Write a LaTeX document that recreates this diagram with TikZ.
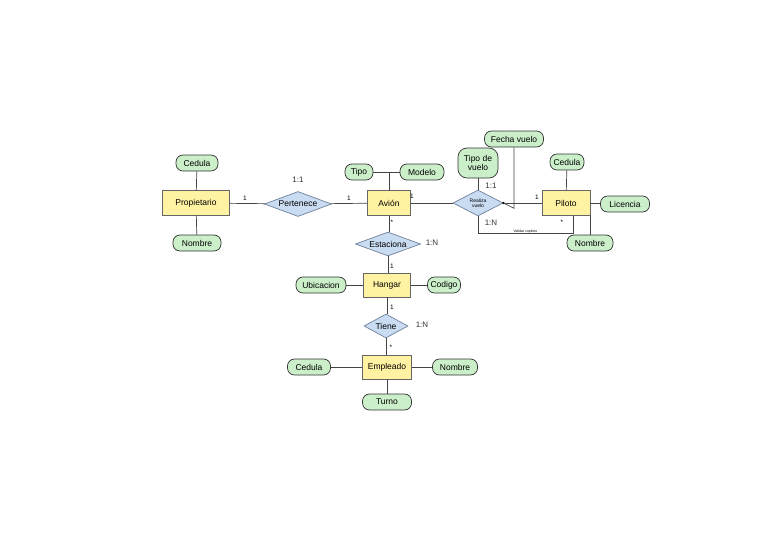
\documentclass[tikz,border=0pt]{standalone}
\usepackage{fontspec}
\setmainfont{Liberation Sans}
\usetikzlibrary{shapes.geometric, calc}

\definecolor{entfill}{HTML}{FFF2A3}
\definecolor{attfill}{HTML}{CBEFC9}
\definecolor{relfill}{HTML}{C9DCF2}
\definecolor{reldraw}{HTML}{6E819A}
\definecolor{linecol}{HTML}{444444}

\tikzset{
  entity/.style={draw=gray!80!black, fill=entfill, minimum height=25, inner sep=1pt, font=\fontsize{8.5}{9}\selectfont},
  attrib/.style={draw=black!80, fill=attfill, rounded corners=7pt, minimum height=16, inner sep=1pt, font=\fontsize{8.5}{9}\selectfont},
  relat/.style={diamond, draw=reldraw, fill=relfill, inner sep=0pt, aspect=2.7, font=\fontsize{8.5}{9}\selectfont},
  card/.style={font=\fontsize{6.5}{7}\selectfont, inner sep=0pt},
  ratio/.style={font=\fontsize{8}{9}\selectfont, inner sep=0pt, text=black!80}
}

\begin{document}
\begin{tikzpicture}[x=1pt, y=-1pt, line width=0.7pt]
  \useasboundingbox (0,0) rectangle (768,543);

  % entidades
  \node[entity, minimum width=67] (prop) at (196,203) {Propietario};
  \node[entity, minimum width=43] (avion) at (389,203) {Avión};
  \node[entity, minimum width=48] (piloto) at (566,203) {Piloto};
  \node[entity, minimum width=47, minimum height=24] (hangar) at (387,285) {Hangar};
  \node[entity, minimum width=49, minimum height=24] (empleado) at (387,367) {Empleado};

  % relaciones
  \node[relat, minimum width=67, minimum height=25] (pert) at (298,204) {Pertenece};
  \node[relat, minimum width=65, minimum height=24] (estac) at (388,244) {Estaciona};
  \node[relat, aspect=1.8, minimum width=44, minimum height=24] (tiene) at (386,326) {Tiene};
  \node[relat, aspect=1.9, minimum width=50, minimum height=26, align=center, font=\fontsize{5}{5.5}\selectfont] (realiza) at (478,203) {Realiza\\vuelo};

  % atributos
  \node[attrib, minimum width=42] (propCed) at (197,163) {Cedula};
  \node[attrib, minimum width=48] (propNom) at (197,243) {Nombre};
  \node[attrib, minimum width=28] (tipo) at (359,172) {Tipo};
  \node[attrib, minimum width=44] (modelo) at (422,172) {Modelo};
  \node[attrib, minimum width=40, minimum height=30, align=center, rounded corners=9pt] (tipoVuelo) at (478,163) {Tipo de\\vuelo};
  \node[attrib, minimum width=59] (fecha) at (514,139) {Fecha vuelo};
  \node[attrib, minimum width=34] (pilCed) at (567,162) {Cedula};
  \node[attrib, minimum width=49] (licencia) at (625,204) {Licencia};
  \node[attrib, minimum width=46] (pilNom) at (590,243) {Nombre};
  \node[attrib, minimum width=50] (ubic) at (321,285) {Ubicacion};
  \node[attrib, minimum width=33] (codigo) at (444,285) {Codigo};
  \node[attrib, minimum width=43] (empCed) at (309,367) {Cedula};
  \node[attrib, minimum width=45] (empNom) at (455,367) {Nombre};
  \node[attrib, minimum width=49] (turno) at (387,402) {Turno};

  \begin{scope}[draw=linecol]
    \foreach \a/\b in {prop/propCed, prop/propNom, prop/pert, pert/avion,
                       hangar/ubic, hangar/codigo, empleado/empCed, empleado/empNom,
                       empleado/turno, piloto/pilCed, piloto/licencia, realiza/piloto,
                       tipoVuelo/realiza}
      \draw (\a) -- (\b);
    \draw (avion.south) -- (avion.south |- estac.north);
    \draw (estac.south) -- (estac.south |- hangar.north);
    \draw (hangar.south) -- (hangar.south |- tiene.north);
    \draw (tiene.south) -- (tiene.south |- empleado.north);
    \coordinate (junc) at (avion.north |- tipo.east);
    \draw (tipo) -- (modelo) (junc) -- (avion);
    \draw (avion.east) -- (realiza.west);
    \draw (fecha.south) -- ++(0,61) -- (realiza.east);
    \fill (realiza.east) circle (1.2pt);
    \draw (pilNom.north) -- (pilNom.north |- piloto.south);
    \coordinate (vcL) at (478,233);
    \coordinate (vcR) at (573,233);
    \draw (realiza.south) -- (vcL) -- node[above=-0.5pt, font=\fontsize{3.5}{4}\selectfont, inner sep=0pt] {Validar copiloto} (vcR) -- (vcR |- piloto.south);
  \end{scope}

  % cardinalidades
  \node[ratio] at (298,180) {1:1};
  \node[card] at (245,198) {1};
  \node[card] at (349,198) {1};
  \node[card] at (412,196) {1};
  \node[card] at (392,222) {*};
  \node[ratio] at (432,243) {1:N};
  \node[card] at (392,266) {1};
  \node[card] at (392,307) {1};
  \node[ratio] at (422,325) {1:N};
  \node[card] at (391,347) {*};
  \node[ratio] at (491,186) {1:1};
  \node[card] at (537,197) {1};
  \node[ratio] at (491,223) {1:N};
  \node[card] at (562,222) {*};
\end{tikzpicture}
\end{document}
